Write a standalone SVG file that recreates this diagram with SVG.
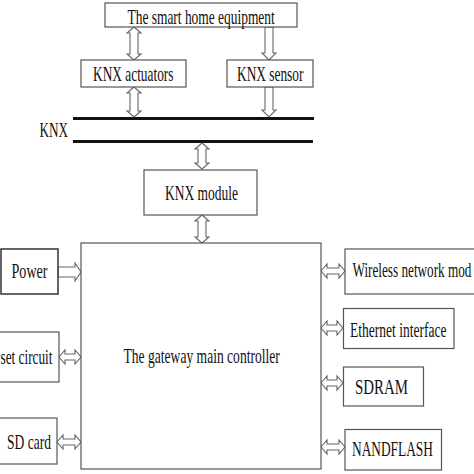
<svg xmlns="http://www.w3.org/2000/svg" width="474" height="474" viewBox="0 0 474 474">
<style>
.box{fill:#fff;stroke:#555;stroke-width:1.2}
.t{font-family:"Liberation Serif","Times New Roman",serif;font-size:20px;fill:#111}
.arr{fill:#fff;stroke:#666;stroke-width:1.1;stroke-linejoin:miter}
.bus{stroke:#111;stroke-width:3}
</style>
<rect width="474" height="474" fill="#fff"/>
<g id="connectors">
<line class="bus" x1="73" y1="118.5" x2="314" y2="118.5"/>
<line class="bus" x1="73" y1="141.5" x2="313" y2="141.5"/>
<polygon class="arr" points="134,27 141,33 138,33 138,54 141,54 134,60 127,54 130,54 130,33 127,33"/>
<polygon class="arr" points="134,87 141,93 138,93 138,111 141,111 134,117 127,111 130,111 130,93 127,93"/>
<polygon class="arr" points="265,27 273,27 273,53 276,53 269,60 262,53 265,53"/>
<polygon class="arr" points="265,87 273,87 273,110 276,110 269,117 262,110 265,110"/>
<polygon class="arr" points="202,143 209,149 206,149 206,163 209,163 202,169 195,163 198,163 198,149 195,149"/>
<polygon class="arr" points="202,215 209,221 206,221 206,237 209,237 202,243 195,237 198,237 198,221 195,221"/>
<polygon class="arr" points="58,267 75,267 75,263 81,272 75,281 75,277 58,277"/>
<polygon class="arr" points="59,357 65,350 65,354 75,354 75,350 81,357 75,364 75,360 65,360 65,364"/>
<polygon class="arr" points="57,442 63,435 63,439 75,439 75,435 81,442 75,449 75,445 63,445 63,449"/>
<polygon class="arr" points="321,271 327,264 327,268 339,268 339,264 345,271 339,278 339,274 327,274 327,278"/>
<polygon class="arr" points="321,328 327,321 327,325 337,325 337,321 343,328 337,335 337,331 327,331 327,335"/>
<polygon class="arr" points="321,383 327,376 327,380 337,380 337,376 343,383 337,390 337,386 327,386 327,390"/>
<polygon class="arr" points="321,447 327,440 327,444 339,444 339,440 345,447 339,454 339,450 327,450 327,454"/>
</g>
<g id="smart-home">
<rect class="box" x="105" y="3" width="192" height="24"/>
<text class="t" transform="translate(127.5,24) scale(0.672,1)">The smart home equipment</text>
</g>
<g id="knx-actuators">
<rect class="box" x="81" y="60" width="105" height="27"/>
<text class="t" transform="translate(93,80.5) scale(0.668,1)">KNX actuators</text>
</g>
<g id="knx-sensor">
<rect class="box" x="227" y="60" width="86" height="27"/>
<text class="t" transform="translate(237,80.5) scale(0.669,1)">KNX sensor</text>
</g>
<g id="knx-label">
<text class="t" transform="translate(39.5,136.5) scale(0.66,1)">KNX</text>
</g>
<g id="knx-module">
<rect class="box" x="144" y="170" width="113" height="45"/>
<text class="t" transform="translate(165,199.5) scale(0.674,1)">KNX module</text>
</g>
<g id="main-controller">
<rect class="box" x="81" y="243" width="240" height="226"/>
<text class="t" transform="translate(123.5,363) scale(0.679,1)">The gateway main controller</text>
</g>
<g id="power">
<rect class="box" x="1" y="249" width="57" height="45" style="stroke:#333;stroke-width:1.5"/>
<text class="t" transform="translate(11.5,278) scale(0.705,1)">Power</text>
</g>
<g id="reset-circuit">
<rect class="box" x="-20" y="332" width="79" height="50"/>
<text class="t" transform="translate(0.5,363.5) scale(0.664,1)">set circuit</text>
</g>
<g id="sd-card">
<rect class="box" x="-20" y="418" width="77" height="46"/>
<text class="t" transform="translate(7,448.5) scale(0.677,1)">SD card</text>
</g>
<g id="wireless">
<rect class="box" x="345" y="249" width="140" height="45"/>
<text class="t" transform="translate(352.5,277) scale(0.66,1)">Wireless network mod</text>
</g>
<g id="ethernet">
<rect class="box" x="343.5" y="308.5" width="110.5" height="40"/>
<text class="t" transform="translate(350,337) scale(0.676,1)">Ethernet interface</text>
</g>
<g id="sdram">
<rect class="box" x="343.5" y="367" width="80" height="39"/>
<text class="t" transform="translate(355,393.5) scale(0.745,1)">SDRAM</text>
</g>
<g id="nandflash">
<rect class="box" x="345" y="429.5" width="96.5" height="40.5"/>
<text class="t" transform="translate(352,455.5) scale(0.669,1)">NANDFLASH</text>
</g>
</svg>
